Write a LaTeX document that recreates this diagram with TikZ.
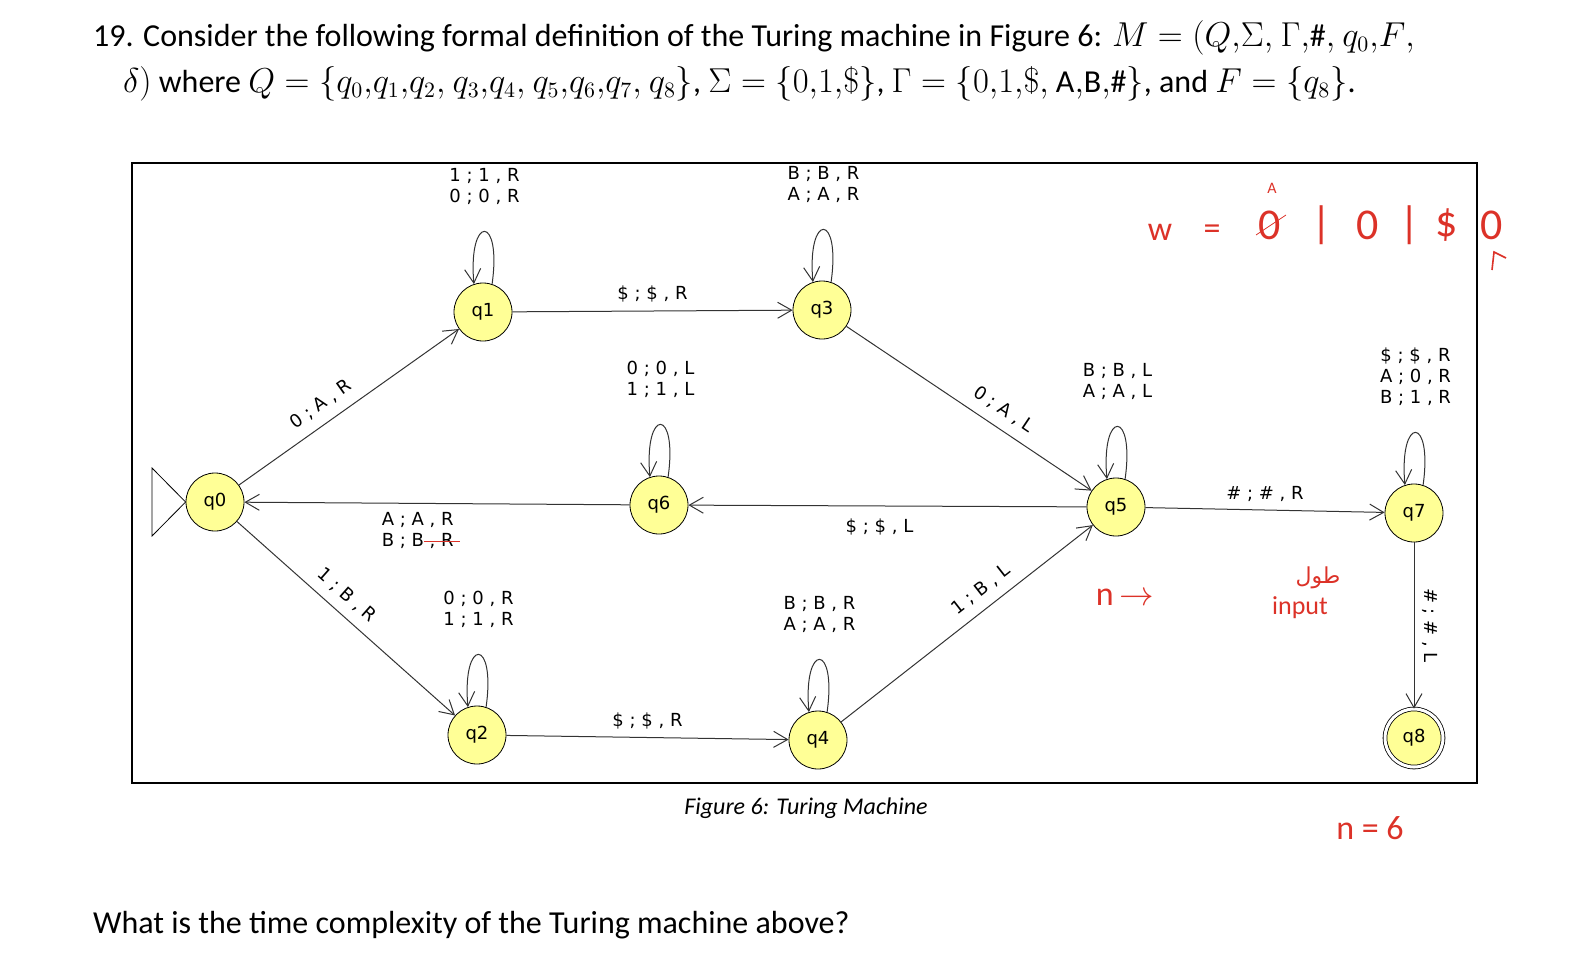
\documentclass[tikz,border=0pt]{standalone}
\usepackage{fontspec}
\setmainfont{Carlito}
\setsansfont{DejaVu Sans}
\newfontfamily\arabicfont[Script=Arabic]{DejaVu Sans}
\TeXXeTstate=1
\usetikzlibrary{arrows.meta}
\definecolor{nodey}{RGB}{255,255,150}
\definecolor{hand}{RGB}{220,50,40}
\begin{document}
\begin{tikzpicture}[x=0.5pt,y=-0.5pt,
  st/.style={circle,draw,fill=nodey,minimum size=29pt,inner sep=0pt,font=\sffamily\fontsize{9}{10}\selectfont},
  lab/.style={font=\sffamily\fontsize{9}{10.5}\selectfont,align=center,inner sep=1pt},
  tr/.style={draw=black!80,line width=0.5pt,-{Straight Barb[length=7pt,width=8pt]}},
  handw/.style={text=hand,font=\fontsize{17}{18}\selectfont}]
\useasboundingbox (0,0) rectangle (1592,960);
\node[anchor=west,font=\fontsize{16}{20}\selectfont] (t1) at (86,38) {19. Consider the following formal definition of the Turing machine in Figure 6: $M=(Q{,}\Sigma{,}\ \Gamma{,}\#{,}\ q_0{,}F{,}$};
\node[anchor=west,font=\fontsize{16}{20}\selectfont] (t2) at (116,84) {$\delta)$ where $Q=\{q_0{,}q_1{,}q_2{,}\ q_3{,}q_4{,}\ q_5{,}q_6{,}q_7{,}\ q_8\}$, $\Sigma=\{0{,}1{,}\$\}$, $\Gamma=\{0{,}1{,}\${,}\ \mathrm{A{,}B}{,}\#\}$, and $F=\{q_8\}$.};
\draw[line width=1pt] (132,163) rectangle (1477,783);
\node[st] (q0) at (215,502) {q0};
\node[st] (q1) at (483,312) {q1};
\node[st] (q2) at (477,735) {q2};
\node[st] (q3) at (822,310) {q3};
\node[st] (q4) at (818,740) {q4};
\node[st] (q5) at (1116,507) {q5};
\node[st] (q6) at (659,505) {q6};
\node[st] (q7) at (1414,513) {q7};
\node[st,double,double distance=1.5pt] (q8) at (1414,738) {q8};
\coordinate (s1) at (152,468); \coordinate (s2) at (152,536);
\draw (s1) -- (q0.west) -- (s2) -- cycle;
\draw[tr] (q0) -- node[lab,sloped,above=4pt,pos=0.42]{0 ; A , R} (q1);
\draw[tr] (q1) -- node[lab,above=3pt]{\$ ; \$ , R} (q3);
\draw[tr] (q3) -- node[lab,sloped,above=4pt,pos=0.6]{0 ; A , L} (q5);
\draw[tr] (q5) -- node[lab,below=5pt,pos=0.52]{\$ ; \$ , L} (q6);
\draw[tr] (q6) -- node[lab,below=3pt,pos=0.55](ab){A ; A , R\\B ; B , R} (q0);
\draw[hand] (ab.south east)++(-32,-9) -- ++(36,0);
\draw[tr] (q0) -- node[lab,sloped,above=4pt,pos=0.45]{1 ; B , R} (q2);
\draw[tr] (q2) -- node[lab,above=3pt]{\$ ; \$ , R} (q4);
\draw[tr] (q4) -- node[lab,sloped,above=4pt,pos=0.6]{1 ; B , L} (q5);
\draw[tr] (q5) -- node[lab,above=3pt]{\# ; \# , R} (q7);
\draw[tr] (q7) -- node[lab,sloped,above=3pt]{\# ; \# , L} (q8);
\foreach \n/\t in {q1/{1 ; 1 , R\\0 ; 0 , R},q3/{B ; B , R\\A ; A , R},q6/{0 ; 0 , L\\1 ; 1 , L},q5/{B ; B , L\\A ; A , L},q7/{\$ ; \$ , R\\A ; 0 , R\\B ; 1 , R},q2/{0 ; 0 , R\\1 ; 1 , R},q4/{B ; B , R\\A ; A , R}}{
  \draw[tr] (\n.72) .. controls +(10,-70) and +(-6,-70) .. (\n.108) node[pos=0.5,lab,above=12pt]{\t};
}
\node[font=\itshape\fontsize{12}{14}\selectfont] (cap) at (806,808) {Figure 6: Turing Machine};
\node[anchor=west,font=\fontsize{16}{20}\selectfont] (qq) at (86,925) {What is the time complexity of the Turing machine above?};
\node[handw] (w) at (1160,232) {w};
\node[handw] (eq) at (1212,232) {=};
\node[handw,font=\fontsize{22}{24}\selectfont] (d1) at (1270,225) {0};
\node[handw,font=\fontsize{22}{24}\selectfont] (d2) at (1322,225) {|};
\node[handw,font=\fontsize{22}{24}\selectfont] (d3) at (1368,225) {0};
\node[handw,font=\fontsize{22}{24}\selectfont] (d4) at (1410,225) {|};
\node[handw,font=\fontsize{22}{24}\selectfont] (d5) at (1447,225) {\$};
\node[handw,font=\fontsize{22}{24}\selectfont] (d6) at (1492,225) {0};
\draw[hand] (1256,235) -- (1286,215);
\node[text=hand,font=\fontsize{8}{9}\selectfont] (aa) at (1272,188) {A};
\draw[hand,line width=0.8pt] (1492,270) -- (1494,252) -- (1506,258);
\node[handw] (nn) at (1125,597) {n\,$\rightarrow$};
\node[text=hand,font=\arabicfont\fontsize{11}{12}\selectfont] (ar) at (1318,578) {\beginR طول\endR};
\node[handw,font=\fontsize{13}{14}\selectfont] (inp) at (1300,608) {input};
\node[handw] (n6) at (1370,828) {n = 6};
\end{tikzpicture}
\end{document}
